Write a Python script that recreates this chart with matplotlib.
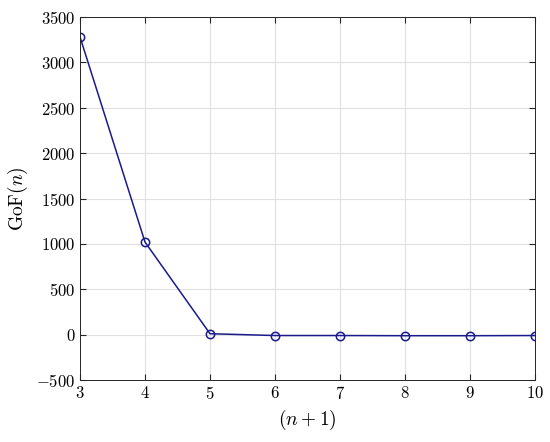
import matplotlib
matplotlib.use('Agg')
import matplotlib.pyplot as plt

plt.rcParams['font.family'] = ['cmr10', 'DejaVu Sans']
plt.rcParams['mathtext.fontset'] = 'cm'
plt.rcParams['axes.formatter.use_mathtext'] = True

x = [3, 4, 5, 6, 7, 8, 9, 10]
gof = [3280, 1020, 10, -10, -10, -12, -12, -10]

fig = plt.figure(figsize=(5.5, 4.42), dpi=100)
ax = fig.add_axes([80/550, 1-380/442, 455/550, 363/442])
col = '#1a1a8c'
ax.plot(x, gof, '-o', color=col, lw=1.1, ms=6, mfc='none', mew=1.1)
ax.set_xlim(3, 10)
ax.set_ylim(-500, 3500)
ax.set_yticks(range(-500, 3501, 500))
ax.set_xticks(x)
ax.grid(True, color='#e0e0e0', lw=0.8)
ax.set_axisbelow(True)
ax.tick_params(direction='in', labelsize=12, top=True, right=True, length=4, color='#262626')
for s in ax.spines.values():
    s.set_color('#262626'); s.set_linewidth(0.7)
ax.set_xlabel(r'$(n+1)$', fontsize=14)
ax.set_ylabel(r'$\mathrm{GoF}(n)$', fontsize=14)
fig.savefig('out.png', dpi=100)
